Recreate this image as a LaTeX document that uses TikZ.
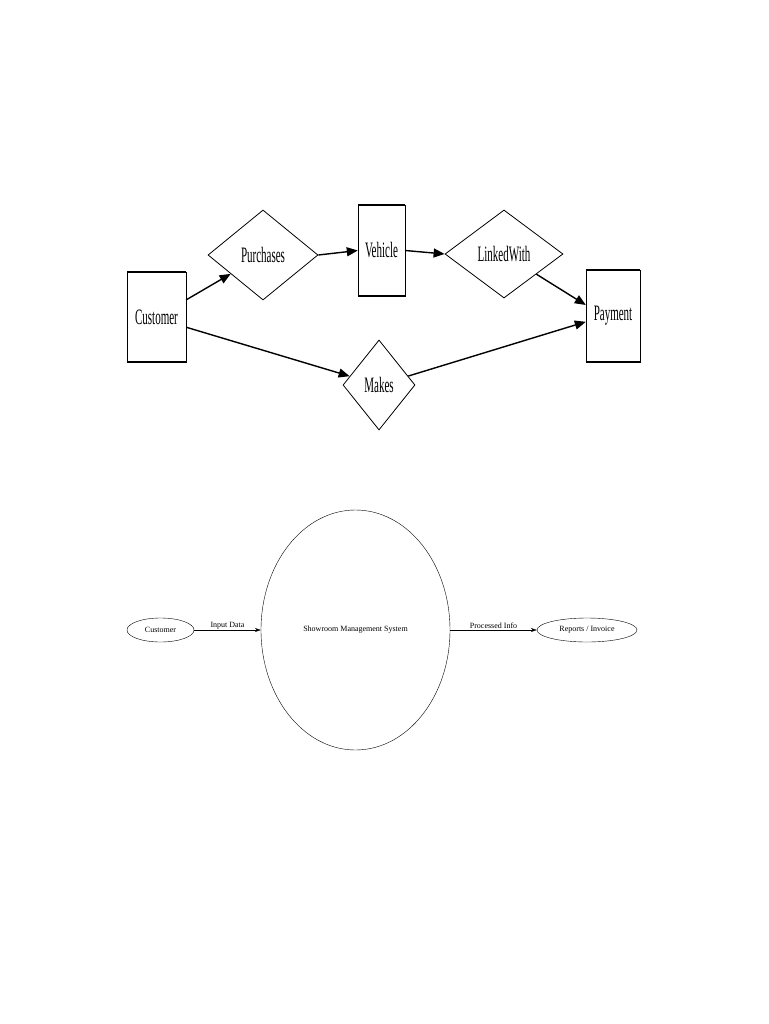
\documentclass[tikz,border=0pt]{standalone}
\usepackage{fontspec}
\setmainfont{Liberation Serif}
\usetikzlibrary{shapes.geometric,arrows.meta}
\begin{document}
\begin{tikzpicture}[x=1pt,y=-1pt,
  ent/.style={draw,thin,inner sep=0pt},
  rel/.style={draw,thick,diamond,inner sep=0pt},
  big/.style={font=\fontsize{22}{22}\selectfont},
  er/.style={line width=1.4pt,-{Triangle[length=11pt,width=9pt]}},
  ell/.style={draw,ellipse,inner sep=0pt,font=\fontsize{8}{9}\selectfont},
  df/.style={-{Stealth[length=6pt,width=4pt]}},
  lab/.style={font=\fontsize{8}{9}\selectfont,above,inner sep=1pt}]
\useasboundingbox (0,0) rectangle (768,1024);
\newcommand{\cw}[1]{\scalebox{0.5}[1]{#1}}
% ER
\node[ent,minimum width=59pt,minimum height=90pt,big] (cust) at (156.5,317) {\cw{Customer}};
\node[rel,minimum width=110pt,minimum height=90pt,big] (pur) at (263,255) {\cw{Purchases}};
\node[ent,minimum width=47pt,minimum height=91pt,big] (veh) at (381.5,250.5) {\cw{Vehicle}};
\node[rel,minimum width=118pt,minimum height=88pt,big] (lw) at (504,254) {\cw{LinkedWith}};
\node[ent,minimum width=54pt,minimum height=92pt,big] (pay) at (613,316) {\cw{Payment}};
\node[rel,minimum width=72pt,minimum height=90pt,big] (mk) at (379,385) {\cw{Makes}};
\foreach \n in {cust,veh,pay}{
  \draw[line width=2pt] (\n.north west) -- (\n.north east);
  \draw[line width=2pt] (\n.south west) -- (\n.south east);}
\draw[er] (cust.30) -- (pur);
\draw[er] (pur.east) -- (veh.west);
\draw[er] (veh.east) -- (lw.west);
\draw[er] (lw) -- (pay.158);
\draw[er] (cust.-19) -- (mk);
\draw[er] (mk) -- (pay.192);
% DFD
\node[ell,minimum width=67pt,minimum height=24pt] (c2) at (160.5,630) {Customer};
\node[ell,thin,minimum width=189pt,minimum height=240pt] (sys) at (355.5,630) {Showroom Management System};
\node[ell,minimum width=100pt,minimum height=24pt] (rep) at (587,630) {Reports / Invoice};
\draw[df] (c2) -- node[lab]{Input Data} (sys);
\draw[df] (sys) -- node[lab]{Processed Info} (rep);
\end{tikzpicture}
\end{document}
